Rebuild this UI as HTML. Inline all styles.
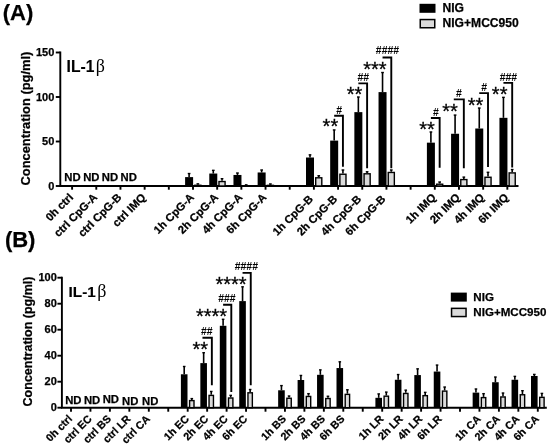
<!DOCTYPE html>
<html><head><meta charset="utf-8"><title>Figure</title>
<style>
html,body{margin:0;padding:0;background:#fff;overflow:hidden;}
svg{display:block;}
text{font-family:"Liberation Sans", sans-serif;fill:#000;}
.tk,.xl,.nd,.yl,.lg,.pl{stroke:#000;stroke-width:0.25px;}
.ttl{stroke:#000;stroke-width:0.15px;}
.beta{stroke:none;}
.tk{font-size:11px;font-weight:bold;}
.xl{font-weight:bold;}
.nd{font-size:11.3px;font-weight:bold;}
.hs{font-size:10.5px;font-weight:bold;}
.st{font-size:20px;stroke:#000;stroke-width:0.3px;}
.ttl{font-weight:bold;}
.beta{font-family:"Liberation Serif","DejaVu Serif",serif;font-weight:normal;font-size:18px;}
.yl{font-weight:bold;}
.pl{font-size:22px;font-weight:bold;}
.lg{font-weight:bold;}
</style></head><body>
<svg width="550" height="444" viewBox="0 0 550 444">
<rect width="550" height="444" fill="#fff"/>
<path d="M60.3 51.55V186.00H518.5" fill="none" stroke="#000" stroke-width="1.9" stroke-linecap="butt"/>
<path d="M55.8 186.00H60.3" stroke="#000" stroke-width="1.9"/>
<text x="54.3" y="189.50" text-anchor="end" class="tk">0</text>
<path d="M55.8 141.50H60.3" stroke="#000" stroke-width="1.9"/>
<text x="54.3" y="145.00" text-anchor="end" class="tk">50</text>
<path d="M55.8 97.00H60.3" stroke="#000" stroke-width="1.9"/>
<text x="54.3" y="100.50" text-anchor="end" class="tk">100</text>
<path d="M55.8 52.50H60.3" stroke="#000" stroke-width="1.9"/>
<text x="54.3" y="56.00" text-anchor="end" class="tk">150</text>
<path d="M72.10 186.00v3.7" stroke="#000" stroke-width="1.9"/>
<text transform="translate(73.90 198.00) rotate(-45)" text-anchor="end" class="xl" font-size="11.2">0h ctrl</text>
<path d="M96.28 186.00v3.7" stroke="#000" stroke-width="1.9"/>
<text transform="translate(98.08 198.00) rotate(-45)" text-anchor="end" class="xl" font-size="11.2">ctrl CpG-A</text>
<path d="M120.46 186.00v3.7" stroke="#000" stroke-width="1.9"/>
<text transform="translate(122.26 198.00) rotate(-45)" text-anchor="end" class="xl" font-size="11.2">ctrl CpG-B</text>
<path d="M144.64 186.00v3.7" stroke="#000" stroke-width="1.9"/>
<text transform="translate(146.44 198.00) rotate(-45)" text-anchor="end" class="xl" font-size="11.2">ctrl IMQ</text>
<path d="M168.82 186.00v3.7" stroke="#000" stroke-width="1.9"/>
<path d="M193.00 186.00v3.7" stroke="#000" stroke-width="1.9"/>
<text transform="translate(194.80 198.00) rotate(-45)" text-anchor="end" class="xl" font-size="11.2">1h CpG-A</text>
<path d="M217.18 186.00v3.7" stroke="#000" stroke-width="1.9"/>
<text transform="translate(218.98 198.00) rotate(-45)" text-anchor="end" class="xl" font-size="11.2">2h CpG-A</text>
<path d="M241.36 186.00v3.7" stroke="#000" stroke-width="1.9"/>
<text transform="translate(243.16 198.00) rotate(-45)" text-anchor="end" class="xl" font-size="11.2">4h CpG-A</text>
<path d="M265.54 186.00v3.7" stroke="#000" stroke-width="1.9"/>
<text transform="translate(267.34 198.00) rotate(-45)" text-anchor="end" class="xl" font-size="11.2">6h CpG-A</text>
<path d="M289.72 186.00v3.7" stroke="#000" stroke-width="1.9"/>
<path d="M313.90 186.00v3.7" stroke="#000" stroke-width="1.9"/>
<text transform="translate(313.70 199.70) rotate(-45)" text-anchor="end" class="xl" font-size="11.2">1h CpG-B</text>
<path d="M338.08 186.00v3.7" stroke="#000" stroke-width="1.9"/>
<text transform="translate(337.88 199.70) rotate(-45)" text-anchor="end" class="xl" font-size="11.2">2h CpG-B</text>
<path d="M362.26 186.00v3.7" stroke="#000" stroke-width="1.9"/>
<text transform="translate(362.06 199.70) rotate(-45)" text-anchor="end" class="xl" font-size="11.2">4h CpG-B</text>
<path d="M386.44 186.00v3.7" stroke="#000" stroke-width="1.9"/>
<text transform="translate(386.24 199.70) rotate(-45)" text-anchor="end" class="xl" font-size="11.2">6h CpG-B</text>
<path d="M410.62 186.00v3.7" stroke="#000" stroke-width="1.9"/>
<path d="M434.80 186.00v3.7" stroke="#000" stroke-width="1.9"/>
<text transform="translate(436.60 198.00) rotate(-45)" text-anchor="end" class="xl" font-size="11.2">1h IMQ</text>
<path d="M458.98 186.00v3.7" stroke="#000" stroke-width="1.9"/>
<text transform="translate(460.78 198.00) rotate(-45)" text-anchor="end" class="xl" font-size="11.2">2h IMQ</text>
<path d="M483.16 186.00v3.7" stroke="#000" stroke-width="1.9"/>
<text transform="translate(484.96 198.00) rotate(-45)" text-anchor="end" class="xl" font-size="11.2">4h IMQ</text>
<path d="M507.34 186.00v3.7" stroke="#000" stroke-width="1.9"/>
<text transform="translate(509.14 198.00) rotate(-45)" text-anchor="end" class="xl" font-size="11.2">6h IMQ</text>
<text x="72.50" y="181.40" text-anchor="middle" class="nd">ND</text>
<text x="91.30" y="181.40" text-anchor="middle" class="nd">ND</text>
<text x="110.00" y="181.40" text-anchor="middle" class="nd">ND</text>
<text x="128.70" y="181.40" text-anchor="middle" class="nd">ND</text>
<path d="M189.10 177.10V173.54" stroke="#000" stroke-width="1.6"/>
<path d="M187.75 173.54h2.7" stroke="#000" stroke-width="1.4"/>
<rect x="185.10" y="177.10" width="8.0" height="8.90" fill="#000"/>
<path d="M197.85 184.58V183.86" stroke="#000" stroke-width="1.6"/>
<path d="M196.50 183.86h2.7" stroke="#000" stroke-width="1.4"/>
<rect x="194.10" y="184.58" width="7.5" height="1.42" fill="#000"/>
<path d="M213.28 173.54V170.34" stroke="#000" stroke-width="1.6"/>
<path d="M211.93 170.34h2.7" stroke="#000" stroke-width="1.4"/>
<rect x="209.28" y="173.54" width="8.0" height="12.46" fill="#000"/>
<path d="M222.03 180.84V178.70" stroke="#000" stroke-width="1.6"/>
<path d="M220.68 178.70h2.7" stroke="#000" stroke-width="1.4"/>
<rect x="218.98" y="181.54" width="6.10" height="4.46" fill="#dadada" stroke="#000" stroke-width="1.4"/>
<path d="M237.46 174.96V173.01" stroke="#000" stroke-width="1.6"/>
<path d="M236.11 173.01h2.7" stroke="#000" stroke-width="1.4"/>
<rect x="233.46" y="174.96" width="8.0" height="11.04" fill="#000"/>
<path d="M246.21 185.29V184.84" stroke="#000" stroke-width="1.6"/>
<path d="M244.86 184.84h2.7" stroke="#000" stroke-width="1.4"/>
<rect x="242.46" y="185.29" width="7.5" height="0.71" fill="#000"/>
<path d="M261.64 172.47V169.98" stroke="#000" stroke-width="1.6"/>
<path d="M260.29 169.98h2.7" stroke="#000" stroke-width="1.4"/>
<rect x="257.64" y="172.47" width="8.0" height="13.53" fill="#000"/>
<path d="M270.39 184.66V183.95" stroke="#000" stroke-width="1.6"/>
<path d="M269.04 183.95h2.7" stroke="#000" stroke-width="1.4"/>
<rect x="266.64" y="184.66" width="7.5" height="1.33" fill="#000"/>
<path d="M310.00 157.52V154.85" stroke="#000" stroke-width="1.6"/>
<path d="M308.65 154.85h2.7" stroke="#000" stroke-width="1.4"/>
<rect x="306.00" y="157.52" width="8.0" height="28.48" fill="#000"/>
<path d="M318.75 177.10V175.76" stroke="#000" stroke-width="1.6"/>
<path d="M317.40 175.76h2.7" stroke="#000" stroke-width="1.4"/>
<rect x="315.70" y="177.80" width="6.10" height="8.20" fill="#dadada" stroke="#000" stroke-width="1.4"/>
<path d="M334.18 140.61V129.93" stroke="#000" stroke-width="1.6"/>
<path d="M332.83 129.93h2.7" stroke="#000" stroke-width="1.4"/>
<rect x="330.18" y="140.61" width="8.0" height="45.39" fill="#000"/>
<path d="M342.93 173.54V169.98" stroke="#000" stroke-width="1.6"/>
<path d="M341.58 169.98h2.7" stroke="#000" stroke-width="1.4"/>
<rect x="339.88" y="174.24" width="6.10" height="11.76" fill="#dadada" stroke="#000" stroke-width="1.4"/>
<path d="M334.18 115.80H342.93V166.70" fill="none" stroke="#000" stroke-width="1.9" stroke-linejoin="miter"/>
<text x="339.16" y="113.70" text-anchor="middle" class="hs">#</text>
<text x="338.18" y="133.40" text-anchor="end" class="st">**</text>
<path d="M358.36 112.13V97.00" stroke="#000" stroke-width="1.6"/>
<path d="M357.01 97.00h2.7" stroke="#000" stroke-width="1.4"/>
<rect x="354.36" y="112.13" width="8.0" height="73.87" fill="#000"/>
<path d="M367.11 173.09V171.76" stroke="#000" stroke-width="1.6"/>
<path d="M365.76 171.76h2.7" stroke="#000" stroke-width="1.4"/>
<rect x="364.06" y="173.79" width="6.10" height="12.21" fill="#dadada" stroke="#000" stroke-width="1.4"/>
<path d="M358.36 83.40H367.11V168.20" fill="none" stroke="#000" stroke-width="1.9" stroke-linejoin="miter"/>
<text x="363.34" y="81.30" text-anchor="middle" class="hs">##</text>
<text x="362.36" y="101.00" text-anchor="end" class="st">**</text>
<path d="M382.54 92.11V72.52" stroke="#000" stroke-width="1.6"/>
<path d="M381.19 72.52h2.7" stroke="#000" stroke-width="1.4"/>
<rect x="378.54" y="92.11" width="8.0" height="93.89" fill="#000"/>
<path d="M391.29 171.76V169.98" stroke="#000" stroke-width="1.6"/>
<path d="M389.94 169.98h2.7" stroke="#000" stroke-width="1.4"/>
<rect x="388.24" y="172.46" width="6.10" height="13.54" fill="#dadada" stroke="#000" stroke-width="1.4"/>
<path d="M382.54 57.50H391.29V168.20" fill="none" stroke="#000" stroke-width="1.9" stroke-linejoin="miter"/>
<text x="387.51" y="54.10" text-anchor="middle" class="hs">####</text>
<text x="386.54" y="75.60" text-anchor="end" class="st">***</text>
<path d="M430.90 142.66V131.98" stroke="#000" stroke-width="1.6"/>
<path d="M429.55 131.98h2.7" stroke="#000" stroke-width="1.4"/>
<rect x="426.90" y="142.66" width="8.0" height="43.34" fill="#000"/>
<path d="M439.65 183.51V182.00" stroke="#000" stroke-width="1.6"/>
<path d="M438.30 182.00h2.7" stroke="#000" stroke-width="1.4"/>
<rect x="436.60" y="184.21" width="6.10" height="1.79" fill="#dadada" stroke="#000" stroke-width="1.4"/>
<path d="M430.90 118.00H439.65V167.70" fill="none" stroke="#000" stroke-width="1.9" stroke-linejoin="miter"/>
<text x="435.88" y="115.90" text-anchor="middle" class="hs">#</text>
<text x="434.90" y="135.80" text-anchor="end" class="st">**</text>
<path d="M455.08 133.76V115.07" stroke="#000" stroke-width="1.6"/>
<path d="M453.73 115.07h2.7" stroke="#000" stroke-width="1.4"/>
<rect x="451.08" y="133.76" width="8.0" height="52.24" fill="#000"/>
<path d="M463.83 178.88V177.10" stroke="#000" stroke-width="1.6"/>
<path d="M462.48 177.10h2.7" stroke="#000" stroke-width="1.4"/>
<rect x="460.78" y="179.58" width="6.10" height="6.42" fill="#dadada" stroke="#000" stroke-width="1.4"/>
<path d="M453.78 99.40H463.83V168.20" fill="none" stroke="#000" stroke-width="1.9" stroke-linejoin="miter"/>
<text x="458.81" y="97.30" text-anchor="middle" class="hs">#</text>
<text x="457.88" y="117.50" text-anchor="end" class="st">**</text>
<path d="M479.26 128.51V108.04" stroke="#000" stroke-width="1.6"/>
<path d="M477.91 108.04h2.7" stroke="#000" stroke-width="1.4"/>
<rect x="475.26" y="128.51" width="8.0" height="57.49" fill="#000"/>
<path d="M488.01 176.57V172.29" stroke="#000" stroke-width="1.6"/>
<path d="M486.66 172.29h2.7" stroke="#000" stroke-width="1.4"/>
<rect x="484.96" y="177.27" width="6.10" height="8.73" fill="#dadada" stroke="#000" stroke-width="1.4"/>
<path d="M479.26 93.10H488.01V166.90" fill="none" stroke="#000" stroke-width="1.9" stroke-linejoin="miter"/>
<text x="484.24" y="91.00" text-anchor="middle" class="hs">#</text>
<text x="483.26" y="111.70" text-anchor="end" class="st">**</text>
<path d="M503.44 117.83V97.36" stroke="#000" stroke-width="1.6"/>
<path d="M502.09 97.36h2.7" stroke="#000" stroke-width="1.4"/>
<rect x="499.44" y="117.83" width="8.0" height="68.17" fill="#000"/>
<path d="M512.19 172.21V169.53" stroke="#000" stroke-width="1.6"/>
<path d="M510.84 169.53h2.7" stroke="#000" stroke-width="1.4"/>
<rect x="509.14" y="172.91" width="6.10" height="13.10" fill="#dadada" stroke="#000" stroke-width="1.4"/>
<path d="M503.44 82.90H512.19V167.50" fill="none" stroke="#000" stroke-width="1.9" stroke-linejoin="miter"/>
<text x="508.42" y="80.80" text-anchor="middle" class="hs">###</text>
<text x="507.44" y="101.00" text-anchor="end" class="st">**</text>
<text x="66.6" y="71.7" class="ttl" font-size="15.6">IL-1<tspan class="beta" dx="1.5">β</tspan></text>
<text transform="translate(30.2 118.6) rotate(-90)" text-anchor="middle" class="yl" font-size="12.9">Concentration (pg/ml)</text>
<text x="2.8" y="19.8" class="pl">(A)</text>
<rect x="419.5" y="3.8" width="16" height="9" fill="#000"/>
<rect x="420.25" y="19.55" width="14.5" height="8.2" fill="#dadada" stroke="#000" stroke-width="1.5"/>
<text x="442.5" y="11.7" class="lg" font-size="12.1">NIG</text>
<text x="442.5" y="27.2" class="lg" font-size="12.1">NIG+MCC950</text>
<path d="M61.9 276.85V407.70H546.8" fill="none" stroke="#000" stroke-width="1.9" stroke-linecap="butt"/>
<path d="M57.4 407.70H61.9" stroke="#000" stroke-width="1.9"/>
<text x="56.8" y="411.20" text-anchor="end" class="tk">0</text>
<path d="M57.4 381.70H61.9" stroke="#000" stroke-width="1.9"/>
<text x="56.8" y="385.20" text-anchor="end" class="tk">20</text>
<path d="M57.4 355.70H61.9" stroke="#000" stroke-width="1.9"/>
<text x="56.8" y="359.20" text-anchor="end" class="tk">40</text>
<path d="M57.4 329.70H61.9" stroke="#000" stroke-width="1.9"/>
<text x="56.8" y="333.20" text-anchor="end" class="tk">60</text>
<path d="M57.4 303.70H61.9" stroke="#000" stroke-width="1.9"/>
<text x="56.8" y="307.20" text-anchor="end" class="tk">80</text>
<path d="M57.4 277.70H61.9" stroke="#000" stroke-width="1.9"/>
<text x="56.8" y="281.20" text-anchor="end" class="tk">100</text>
<path d="M71.00 407.70v4.0" stroke="#000" stroke-width="1.9"/>
<text transform="translate(72.90 419.50) rotate(-45)" text-anchor="end" class="xl" font-size="10.7">0h ctrl</text>
<path d="M90.45 407.70v4.0" stroke="#000" stroke-width="1.9"/>
<text transform="translate(92.35 419.50) rotate(-45)" text-anchor="end" class="xl" font-size="10.7">ctrl EC</text>
<path d="M109.90 407.70v4.0" stroke="#000" stroke-width="1.9"/>
<text transform="translate(111.80 419.50) rotate(-45)" text-anchor="end" class="xl" font-size="10.7">ctrl BS</text>
<path d="M129.35 407.70v4.0" stroke="#000" stroke-width="1.9"/>
<text transform="translate(131.25 419.50) rotate(-45)" text-anchor="end" class="xl" font-size="10.7">ctrl LR</text>
<path d="M148.80 407.70v4.0" stroke="#000" stroke-width="1.9"/>
<text transform="translate(150.70 419.50) rotate(-45)" text-anchor="end" class="xl" font-size="10.7">ctrl CA</text>
<path d="M168.25 407.70v4.0" stroke="#000" stroke-width="1.9"/>
<path d="M187.70 407.70v4.0" stroke="#000" stroke-width="1.9"/>
<text transform="translate(189.60 419.50) rotate(-45)" text-anchor="end" class="xl" font-size="10.7">1h EC</text>
<path d="M207.15 407.70v4.0" stroke="#000" stroke-width="1.9"/>
<text transform="translate(209.05 419.50) rotate(-45)" text-anchor="end" class="xl" font-size="10.7">2h EC</text>
<path d="M226.60 407.70v4.0" stroke="#000" stroke-width="1.9"/>
<text transform="translate(228.50 419.50) rotate(-45)" text-anchor="end" class="xl" font-size="10.7">4h EC</text>
<path d="M246.05 407.70v4.0" stroke="#000" stroke-width="1.9"/>
<text transform="translate(247.95 419.50) rotate(-45)" text-anchor="end" class="xl" font-size="10.7">6h EC</text>
<path d="M265.50 407.70v4.0" stroke="#000" stroke-width="1.9"/>
<path d="M284.95 407.70v4.0" stroke="#000" stroke-width="1.9"/>
<text transform="translate(286.85 419.50) rotate(-45)" text-anchor="end" class="xl" font-size="10.7">1h BS</text>
<path d="M304.40 407.70v4.0" stroke="#000" stroke-width="1.9"/>
<text transform="translate(306.30 419.50) rotate(-45)" text-anchor="end" class="xl" font-size="10.7">2h BS</text>
<path d="M323.85 407.70v4.0" stroke="#000" stroke-width="1.9"/>
<text transform="translate(325.75 419.50) rotate(-45)" text-anchor="end" class="xl" font-size="10.7">4h BS</text>
<path d="M343.30 407.70v4.0" stroke="#000" stroke-width="1.9"/>
<text transform="translate(345.20 419.50) rotate(-45)" text-anchor="end" class="xl" font-size="10.7">6h BS</text>
<path d="M362.75 407.70v4.0" stroke="#000" stroke-width="1.9"/>
<path d="M382.20 407.70v4.0" stroke="#000" stroke-width="1.9"/>
<text transform="translate(384.10 419.50) rotate(-45)" text-anchor="end" class="xl" font-size="10.7">1h LR</text>
<path d="M401.65 407.70v4.0" stroke="#000" stroke-width="1.9"/>
<text transform="translate(403.55 419.50) rotate(-45)" text-anchor="end" class="xl" font-size="10.7">2h LR</text>
<path d="M421.10 407.70v4.0" stroke="#000" stroke-width="1.9"/>
<text transform="translate(423.00 419.50) rotate(-45)" text-anchor="end" class="xl" font-size="10.7">4h LR</text>
<path d="M440.55 407.70v4.0" stroke="#000" stroke-width="1.9"/>
<text transform="translate(442.45 419.50) rotate(-45)" text-anchor="end" class="xl" font-size="10.7">6h LR</text>
<path d="M460.00 407.70v4.0" stroke="#000" stroke-width="1.9"/>
<path d="M479.45 407.70v4.0" stroke="#000" stroke-width="1.9"/>
<text transform="translate(481.35 419.50) rotate(-45)" text-anchor="end" class="xl" font-size="10.7">1h CA</text>
<path d="M498.90 407.70v4.0" stroke="#000" stroke-width="1.9"/>
<text transform="translate(500.80 419.50) rotate(-45)" text-anchor="end" class="xl" font-size="10.7">2h CA</text>
<path d="M518.35 407.70v4.0" stroke="#000" stroke-width="1.9"/>
<text transform="translate(520.25 419.50) rotate(-45)" text-anchor="end" class="xl" font-size="10.7">4h CA</text>
<path d="M537.80 407.70v4.0" stroke="#000" stroke-width="1.9"/>
<text transform="translate(539.70 419.50) rotate(-45)" text-anchor="end" class="xl" font-size="10.7">6h CA</text>
<text x="73.30" y="403.70" text-anchor="middle" class="nd">ND</text>
<text x="92.10" y="403.70" text-anchor="middle" class="nd">ND</text>
<text x="110.80" y="403.10" text-anchor="middle" class="nd">ND</text>
<text x="130.20" y="404.60" text-anchor="middle" class="nd">ND</text>
<text x="150.20" y="404.60" text-anchor="middle" class="nd">ND</text>
<path d="M184.20 374.29V366.49" stroke="#000" stroke-width="1.6"/>
<path d="M182.90 366.49h2.6" stroke="#000" stroke-width="1.4"/>
<rect x="180.90" y="374.29" width="6.6" height="33.41" fill="#000"/>
<path d="M191.80 399.90V398.60" stroke="#000" stroke-width="1.6"/>
<path d="M190.50 398.60h2.6" stroke="#000" stroke-width="1.4"/>
<rect x="189.60" y="400.60" width="4.40" height="7.10" fill="#dadada" stroke="#000" stroke-width="1.4"/>
<path d="M203.65 363.11V352.71" stroke="#000" stroke-width="1.6"/>
<path d="M202.35 352.71h2.6" stroke="#000" stroke-width="1.4"/>
<rect x="200.35" y="363.11" width="6.6" height="44.59" fill="#000"/>
<path d="M211.25 394.70V391.45" stroke="#000" stroke-width="1.6"/>
<path d="M209.95 391.45h2.6" stroke="#000" stroke-width="1.4"/>
<rect x="209.05" y="395.40" width="4.40" height="12.30" fill="#dadada" stroke="#000" stroke-width="1.4"/>
<path d="M202.45 337.80H211.85V385.20" fill="none" stroke="#000" stroke-width="1.9" stroke-linejoin="miter"/>
<text x="206.85" y="335.00" text-anchor="middle" class="hs">##</text>
<text x="208.05" y="355.80" text-anchor="end" class="st">**</text>
<path d="M223.10 325.80V319.30" stroke="#000" stroke-width="1.6"/>
<path d="M221.80 319.30h2.6" stroke="#000" stroke-width="1.4"/>
<rect x="219.80" y="325.80" width="6.6" height="81.90" fill="#000"/>
<path d="M230.70 397.30V395.35" stroke="#000" stroke-width="1.6"/>
<path d="M229.40 395.35h2.6" stroke="#000" stroke-width="1.4"/>
<rect x="228.50" y="398.00" width="4.40" height="9.70" fill="#dadada" stroke="#000" stroke-width="1.4"/>
<path d="M223.10 304.70H231.30V392.00" fill="none" stroke="#000" stroke-width="1.9" stroke-linejoin="miter"/>
<text x="226.90" y="301.90" text-anchor="middle" class="hs">###</text>
<text x="227.10" y="322.80" text-anchor="end" class="st">****</text>
<path d="M242.55 301.10V286.80" stroke="#000" stroke-width="1.6"/>
<path d="M241.25 286.80h2.6" stroke="#000" stroke-width="1.4"/>
<rect x="239.25" y="301.10" width="6.6" height="106.60" fill="#000"/>
<path d="M250.15 392.10V389.50" stroke="#000" stroke-width="1.6"/>
<path d="M248.85 389.50h2.6" stroke="#000" stroke-width="1.4"/>
<rect x="247.95" y="392.80" width="4.40" height="14.90" fill="#dadada" stroke="#000" stroke-width="1.4"/>
<path d="M242.55 272.90H250.75V385.20" fill="none" stroke="#000" stroke-width="1.9" stroke-linejoin="miter"/>
<text x="246.35" y="270.10" text-anchor="middle" class="hs">####</text>
<text x="246.55" y="291.00" text-anchor="end" class="st">****</text>
<path d="M281.45 390.28V385.60" stroke="#000" stroke-width="1.6"/>
<path d="M280.15 385.60h2.6" stroke="#000" stroke-width="1.4"/>
<rect x="278.15" y="390.28" width="6.6" height="17.42" fill="#000"/>
<path d="M289.05 397.56V396.00" stroke="#000" stroke-width="1.6"/>
<path d="M287.75 396.00h2.6" stroke="#000" stroke-width="1.4"/>
<rect x="286.85" y="398.26" width="4.40" height="9.44" fill="#dadada" stroke="#000" stroke-width="1.4"/>
<path d="M300.90 380.01V375.46" stroke="#000" stroke-width="1.6"/>
<path d="M299.60 375.46h2.6" stroke="#000" stroke-width="1.4"/>
<rect x="297.60" y="380.01" width="6.6" height="27.69" fill="#000"/>
<path d="M308.50 395.74V393.66" stroke="#000" stroke-width="1.6"/>
<path d="M307.20 393.66h2.6" stroke="#000" stroke-width="1.4"/>
<rect x="306.30" y="396.44" width="4.40" height="11.26" fill="#dadada" stroke="#000" stroke-width="1.4"/>
<path d="M320.35 374.81V369.87" stroke="#000" stroke-width="1.6"/>
<path d="M319.05 369.87h2.6" stroke="#000" stroke-width="1.4"/>
<rect x="317.05" y="374.81" width="6.6" height="32.89" fill="#000"/>
<path d="M327.95 397.82V396.26" stroke="#000" stroke-width="1.6"/>
<path d="M326.65 396.26h2.6" stroke="#000" stroke-width="1.4"/>
<rect x="325.75" y="398.52" width="4.40" height="9.18" fill="#dadada" stroke="#000" stroke-width="1.4"/>
<path d="M339.80 368.05V361.81" stroke="#000" stroke-width="1.6"/>
<path d="M338.50 361.81h2.6" stroke="#000" stroke-width="1.4"/>
<rect x="336.50" y="368.05" width="6.6" height="39.65" fill="#000"/>
<path d="M347.40 393.66V389.76" stroke="#000" stroke-width="1.6"/>
<path d="M346.10 389.76h2.6" stroke="#000" stroke-width="1.4"/>
<rect x="345.20" y="394.36" width="4.40" height="13.34" fill="#dadada" stroke="#000" stroke-width="1.4"/>
<path d="M378.70 397.82V393.92" stroke="#000" stroke-width="1.6"/>
<path d="M377.40 393.92h2.6" stroke="#000" stroke-width="1.4"/>
<rect x="375.40" y="397.82" width="6.6" height="9.88" fill="#000"/>
<path d="M386.30 395.48V392.10" stroke="#000" stroke-width="1.6"/>
<path d="M385.00 392.10h2.6" stroke="#000" stroke-width="1.4"/>
<rect x="384.10" y="396.18" width="4.40" height="11.52" fill="#dadada" stroke="#000" stroke-width="1.4"/>
<path d="M398.15 379.75V374.55" stroke="#000" stroke-width="1.6"/>
<path d="M396.85 374.55h2.6" stroke="#000" stroke-width="1.4"/>
<rect x="394.85" y="379.75" width="6.6" height="27.95" fill="#000"/>
<path d="M405.75 392.75V390.15" stroke="#000" stroke-width="1.6"/>
<path d="M404.45 390.15h2.6" stroke="#000" stroke-width="1.4"/>
<rect x="403.55" y="393.45" width="4.40" height="14.25" fill="#dadada" stroke="#000" stroke-width="1.4"/>
<path d="M417.60 375.07V368.83" stroke="#000" stroke-width="1.6"/>
<path d="M416.30 368.83h2.6" stroke="#000" stroke-width="1.4"/>
<rect x="414.30" y="375.07" width="6.6" height="32.63" fill="#000"/>
<path d="M425.20 394.96V392.36" stroke="#000" stroke-width="1.6"/>
<path d="M423.90 392.36h2.6" stroke="#000" stroke-width="1.4"/>
<rect x="423.00" y="395.66" width="4.40" height="12.04" fill="#dadada" stroke="#000" stroke-width="1.4"/>
<path d="M437.05 371.56V365.06" stroke="#000" stroke-width="1.6"/>
<path d="M435.75 365.06h2.6" stroke="#000" stroke-width="1.4"/>
<rect x="433.75" y="371.56" width="6.6" height="36.14" fill="#000"/>
<path d="M444.65 390.41V387.03" stroke="#000" stroke-width="1.6"/>
<path d="M443.35 387.03h2.6" stroke="#000" stroke-width="1.4"/>
<rect x="442.45" y="391.11" width="4.40" height="16.59" fill="#dadada" stroke="#000" stroke-width="1.4"/>
<path d="M475.95 392.62V388.98" stroke="#000" stroke-width="1.6"/>
<path d="M474.65 388.98h2.6" stroke="#000" stroke-width="1.4"/>
<rect x="472.65" y="392.62" width="6.6" height="15.08" fill="#000"/>
<path d="M483.55 396.91V393.66" stroke="#000" stroke-width="1.6"/>
<path d="M482.25 393.66h2.6" stroke="#000" stroke-width="1.4"/>
<rect x="481.35" y="397.61" width="4.40" height="10.09" fill="#dadada" stroke="#000" stroke-width="1.4"/>
<path d="M495.40 382.22V377.02" stroke="#000" stroke-width="1.6"/>
<path d="M494.10 377.02h2.6" stroke="#000" stroke-width="1.4"/>
<rect x="492.10" y="382.22" width="6.6" height="25.48" fill="#000"/>
<path d="M503.00 396.26V393.01" stroke="#000" stroke-width="1.6"/>
<path d="M501.70 393.01h2.6" stroke="#000" stroke-width="1.4"/>
<rect x="500.80" y="396.96" width="4.40" height="10.74" fill="#dadada" stroke="#000" stroke-width="1.4"/>
<path d="M514.85 379.75V376.37" stroke="#000" stroke-width="1.6"/>
<path d="M513.55 376.37h2.6" stroke="#000" stroke-width="1.4"/>
<rect x="511.55" y="379.75" width="6.6" height="27.95" fill="#000"/>
<path d="M522.45 394.05V390.67" stroke="#000" stroke-width="1.6"/>
<path d="M521.15 390.67h2.6" stroke="#000" stroke-width="1.4"/>
<rect x="520.25" y="394.75" width="4.40" height="12.95" fill="#dadada" stroke="#000" stroke-width="1.4"/>
<path d="M534.30 375.98V374.42" stroke="#000" stroke-width="1.6"/>
<path d="M533.00 374.42h2.6" stroke="#000" stroke-width="1.4"/>
<rect x="531.00" y="375.98" width="6.6" height="31.72" fill="#000"/>
<path d="M541.90 396.65V393.40" stroke="#000" stroke-width="1.6"/>
<path d="M540.60 393.40h2.6" stroke="#000" stroke-width="1.4"/>
<rect x="539.70" y="397.35" width="4.40" height="10.35" fill="#dadada" stroke="#000" stroke-width="1.4"/>
<text x="68.6" y="296.8" class="ttl" font-size="15.3">IL-1<tspan class="beta" dx="1.5">β</tspan></text>
<text transform="translate(32.4 341.5) rotate(-90)" text-anchor="middle" class="yl" font-size="12.5">Concentration (pg/ml)</text>
<text x="4.9" y="247.1" class="pl">(B)</text>
<rect x="450.8" y="292.6" width="16" height="9" fill="#000"/>
<rect x="451.55" y="308.35" width="14.5" height="8.2" fill="#dadada" stroke="#000" stroke-width="1.5"/>
<text x="473.3" y="300.5" class="lg" font-size="11.6">NIG</text>
<text x="473.3" y="316.0" class="lg" font-size="11.6">NIG+MCC950</text>
</svg>
</body></html>
